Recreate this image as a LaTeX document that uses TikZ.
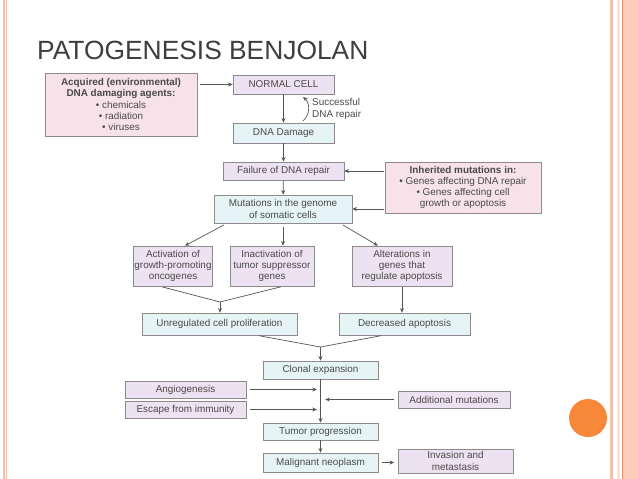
\documentclass[tikz,border=0pt]{standalone}
\usepackage{fontspec}
\setmainfont{Liberation Sans}
\usetikzlibrary{arrows.meta}

\definecolor{boxtext}{HTML}{4A4A4A}
\definecolor{titlegray}{HTML}{3E3E3E}
\definecolor{boxline}{HTML}{8E8A8C}
\definecolor{arrowgray}{HTML}{555555}
\definecolor{pinkfill}{HTML}{F6E2E8}
\definecolor{lilacfill}{HTML}{ECE2F1}
\definecolor{cyanfill}{HTML}{E6F4F6}
\definecolor{salmonfill}{HTML}{FFCCB9}
\definecolor{salmonline}{HTML}{F4C0AC}
\definecolor{palesalmon}{HTML}{FBE1D6}
\definecolor{orangeline}{HTML}{E8916C}
\definecolor{dotorange}{HTML}{F7883A}

\begin{document}
\begin{tikzpicture}[x={(0.03cm,0cm)},y={(0cm,-0.03cm)},
    font=\fontsize{8.45}{9.5}\selectfont, text=boxtext,
    box/.style={draw=boxline, line width=0.5pt, inner sep=1pt, align=center},
    pinkbox/.style={box, fill=pinkfill},
    lilacbox/.style={box, fill=lilacfill},
    cyanbox/.style={box, fill=cyanfill},
    wh/.style 2 args={minimum width=#1*0.03cm, minimum height=#2*0.03cm},
    ln/.style={draw=arrowgray, line width=0.6pt},
    arr/.style={ln, -{Stealth[length=4pt,width=3.4pt]}}]

% canvas, in pixels of the slide (y runs down)
\useasboundingbox (0,0) rectangle (638,479);
\fill[white] (0,0) rectangle (638,479);

% slide frame, left and right
\foreach \x in {4,6.3}
    \draw[salmonline, line width=1pt] (\x,0)--(\x,479);
\fill[salmonfill] (622,0) rectangle (638,479);
\draw[orangeline, line width=0.9pt] (622.5,0)--(622.5,479);
\draw[salmonline, line width=2.2pt] (611.5,0)--(611.5,479);
\draw[palesalmon, line width=3pt] (618.7,0)--(618.7,479);
\fill[dotorange] (588,418) circle [radius=0.57cm];

% title
\node[anchor=base west, inner sep=0, text=titlegray,
      font=\fontsize{22.5}{27}\selectfont] (title) at (37,60) {PATOGENESIS BENJOLAN};

% top column
\node[pinkbox, wh={152}{63}] (acquired) at (121,104.5)
    {\textbf{Acquired (environmental)}\\\textbf{DNA damaging agents:}\\
     \textbullet\ chemicals\\\textbullet\ radiation\\\textbullet\ viruses};
\node[lilacbox, wh={101}{19}] (normal) at (283.5,84.5) {NORMAL CELL};
\node[cyanbox, wh={101}{20}] (damage) at (283.5,133) {DNA Damage};
\node[lilacbox, wh={121}{18}] (failure) at (283.5,171) {Failure of DNA repair};
\node[pinkbox, wh={156}{51}] (inherited) at (463,187.5)
    {\textbf{Inherited mutations in:}\\\textbullet\ Genes affecting DNA repair\\
     \textbullet\ Genes affecting cell\\growth or apoptosis};
\node[cyanbox, wh={138}{28}] (mutations) at (283,209)
    {Mutations in the genome\\of somatic cells};

% three kinds of damage
\node[lilacbox, wh={79}{40}] (activation) at (173,266)
    {Activation of\\growth-promoting\\oncogenes};
\node[lilacbox, wh={84}{40}] (inactivation) at (272,266)
    {Inactivation of\\tumor suppressor\\genes};
\node[lilacbox, wh={100}{40}] (alterations) at (402,266)
    {Alterations in\\genes that\\regulate apoptosis};
\node[cyanbox, wh={155}{22}] (unregulated) at (219.5,324) {Unregulated cell proliferation};
\node[cyanbox, wh={131}{22}] (decreased) at (404.5,324) {Decreased apoptosis};

% bottom column
\node[cyanbox, wh={115}{18}] (clonal) at (320.5,370) {Clonal expansion};
\node[lilacbox, wh={121}{17}] (angio) at (185.5,389.5) {Angiogenesis};
\node[lilacbox, wh={121}{17}] (escape) at (185.5,409.5) {Escape from immunity};
\node[lilacbox, wh={112}{17}] (additional) at (454,399.5) {Additional mutations};
\node[cyanbox, wh={115}{17}] (tumor) at (320.5,431.5) {Tumor progression};
\node[cyanbox, wh={115}{19}] (malignant) at (320.5,462.5) {Malignant neoplasm};
\node[lilacbox, wh={115}{24}] (invasion) at (455.5,461) {Invasion and\\metastasis};

% repair loop
\coordinate (rep0) at (303,121);
\coordinate (rep1) at (303,97);
\node[anchor=west, align=left, inner sep=0] (replabel) at (312,109) {Successful\\DNA repair};

% joins of the converging lines
\coordinate (merge1) at (220,302);
\coordinate (merge2) at (320.5,347);

% connectors
\draw[arr, shorten <=2pt] (acquired.east |- normal.west) -- (normal.west);
\draw[arr] (normal) -- (damage);
\draw[arr] (rep0) to[bend right=50] (rep1);
\draw[arr] (damage) -- (failure);
\draw[arr, shorten <=1pt] (inherited.west |- failure.east) -- (failure.east);
\draw[arr, shorten <=1pt] (inherited.west |- mutations.east) -- (mutations.east);
\draw[arr] (failure) -- (mutations);

\draw[arr, shorten <=3pt] ([xshift=-1.68cm]mutations.south) -- ([xshift=0.36cm]activation.north);
\draw[arr, shorten <=3pt] (mutations.south) -- (mutations.south |- inactivation.north);
\draw[arr, shorten <=3pt] ([xshift=1.71cm]mutations.south) -- ([xshift=-0.72cm]alterations.north);

\draw[ln, shorten <=2pt] ([xshift=-0.39cm]activation.south) -- (merge1);
\draw[ln, shorten <=2pt] ([xshift=0.33cm]inactivation.south) -- (merge1);
\draw[arr] (merge1) -- (merge1 |- unregulated.north);
\draw[arr, shorten <=1pt] (alterations.south) -- (alterations.south |- decreased.north);

\draw[ln, shorten <=2pt] ([xshift=1.12cm]unregulated.south) -- (merge2);
\draw[ln, shorten <=2pt] ([xshift=-0.64cm]decreased.south) -- (merge2);
\draw[arr] (merge2) -- (clonal.north);

\draw[arr] (clonal) -- (tumor);
\draw[arr, shorten <=3pt, shorten >=3pt] (angio.east) -- (clonal.south |- angio.east);
\draw[arr, shorten <=3pt, shorten >=3pt] (escape.east) -- (clonal.south |- escape.east);
\draw[arr, shorten <=3pt, shorten >=4pt] (additional.west) -- (clonal.south |- additional.west);
\draw[arr] (tumor) -- (malignant);
\draw[arr, shorten <=3pt, shorten >=3pt] (malignant.east) -- (malignant.east -| invasion.west);

\end{tikzpicture}
\end{document}
